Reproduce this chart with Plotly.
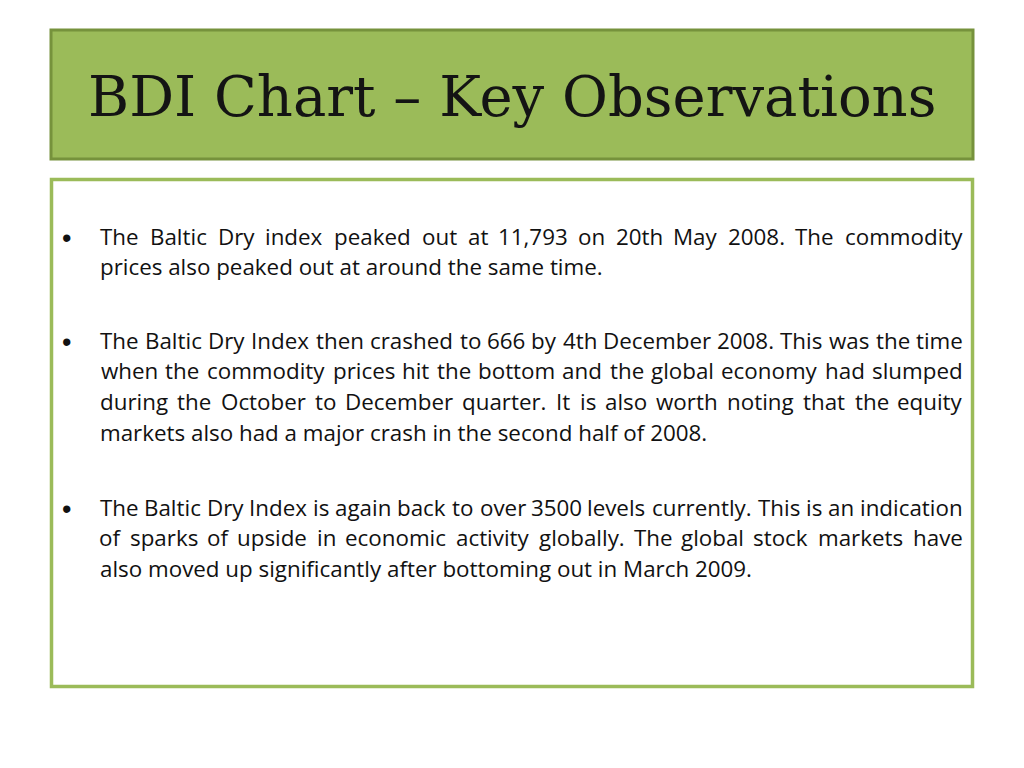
import plotly.graph_objects as go

title_text = "BDI Chart – Key Observations"

bullet_lines = [
    ["The Baltic Dry index peaked out at 11,793 on 20th May 2008. The commodity",
     "prices also peaked out at around the same time."],
    ["The Baltic Dry Index then crashed to 666 by 4th December 2008. This was the time",
     "when the commodity prices hit the bottom and the global economy had slumped",
     "during the October to December quarter. It is also worth noting that the equity",
     "markets also had a major crash in the second half of 2008."],
    ["The Baltic Dry Index is again back to over 3500 levels currently. This is an indication",
     "of sparks of upside in economic activity globally. The global stock markets have",
     "also moved up significantly after bottoming out in March 2009."],
]
bullet_tops = [236, 340, 507]

# page geometry (pixels)
W, H = 1024, 768
OFF = 8  # browser body margin
TEXT_L, TEXT_R = 100, 963
LINE_H = 30.8
BODY_FAMILY = "'Open Sans', 'Noto Sans', sans-serif"

# approximate Open Sans advance widths (units per 2048 em)
ADV = {' ': 532, ',': 502, '.': 545, ':': 545, '-': 659, '–': 1024}
ADV.update({d: 1171 for d in "0123456789"})
ADV.update(dict(zip("ABCDEFGHIJKLMNOPQRSTUVWXYZ",
                    [1296, 1327, 1292, 1493, 1139, 1057, 1491, 1511, 571, 547, 1257, 1081, 1849,
                     1554, 1595, 1233, 1595, 1266, 1124, 1139, 1511, 1214, 1905, 1180, 1151, 1143])))
ADV.update(dict(zip("abcdefghijklmnopqrstuvwxyz",
                    [1188, 1276, 1053, 1276, 1180, 698, 1122, 1300, 535, 535, 1147, 535, 1958,
                     1300, 1251, 1276, 1276, 864, 997, 729, 1300, 1096, 1673, 1104, 1096, 979])))
WIDTH_CORR = 0.974  # measured rendered width / estimated width


def em_width(s):
    return WIDTH_CORR * sum(ADV.get(c, 1100) for c in s) / 2048.0


# size chosen so the last (unjustified) lines match the reference widths
ref_last_widths = {"prices also peaked out at around the same time.": 503,
                   "markets also had a major crash in the second half of 2008.": 604,
                   "also moved up significantly after bottoming out in March 2009.": 652}
BODY_SIZE = sum(w / em_width(s) for s, w in ref_last_widths.items()) / len(ref_last_widths)
BODY_FONT = dict(family=BODY_FAMILY, size=BODY_SIZE, color="#111111")

fig = go.Figure()

shapes = [
    dict(type="rect", x0=51, x1=973, y0=30, y1=159, xref="x", yref="y",
         fillcolor="#9BBB59", line=dict(color="#76923C", width=3), layer="below"),
    dict(type="rect", x0=51.5, x1=972.5, y0=179.5, y1=686.5, xref="x", yref="y",
         fillcolor="#FFFFFF", line=dict(color="#9BBB59", width=3.5), layer="below"),
]

annotations = [
    dict(x=512, y=96, xref="x", yref="y", text=title_text, showarrow=False,
         xanchor="center", yanchor="middle",
         font=dict(family="'DejaVu Serif', serif", size=56, color="#141414")),
]


def add_text(x, y, s, anchor, font=None):
    annotations.append(dict(x=x, y=y, xref="x", yref="y", text=s, showarrow=False,
                            xanchor=anchor, yanchor="middle", font=font or BODY_FONT,
                            borderpad=0))


for top, lines in zip(bullet_tops, bullet_lines):
    add_text(66.7, top + 2, "•", "center",
             font=dict(family="'Liberation Sans', Arial, sans-serif", size=27, color="#111111"))
    for i, ln in enumerate(lines):
        y = top + i * LINE_H
        if i == len(lines) - 1:
            add_text(TEXT_L - 1, y, ln, "left")
            continue
        words = ln.split(" ")
        widths = [em_width(w) * BODY_SIZE for w in words]
        gap = (TEXT_R - TEXT_L - sum(widths)) / (len(words) - 1)
        x = TEXT_L
        for w, wd in zip(words, widths):
            add_text(x + wd / 2, y, w, "center")
            x += wd + gap

fig.update_layout(
    width=W, height=H, margin=dict(l=0, r=0, t=0, b=0),
    paper_bgcolor="white", plot_bgcolor="white",
    xaxis=dict(range=[OFF, W + OFF], visible=False, fixedrange=True),
    yaxis=dict(range=[H + OFF, OFF], visible=False, fixedrange=True),
    shapes=shapes, annotations=annotations, showlegend=False,
)

fig.write_html("out.html")
